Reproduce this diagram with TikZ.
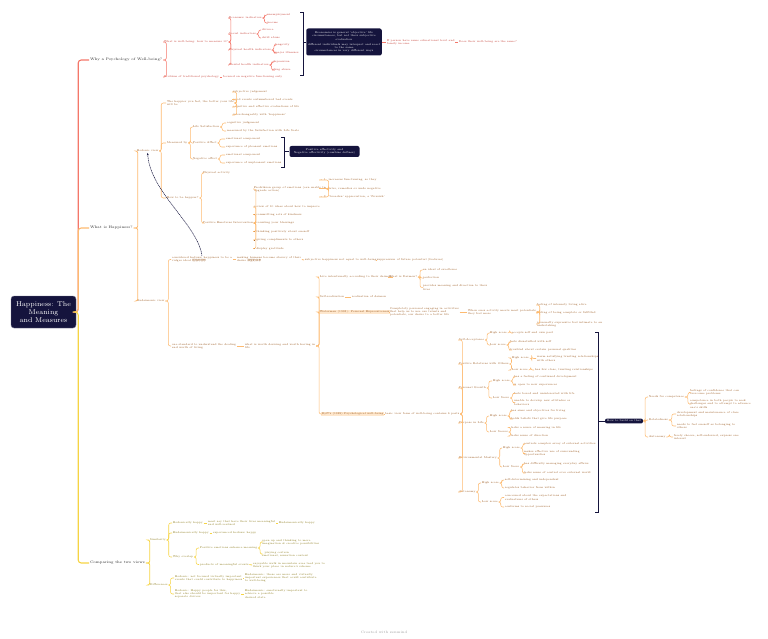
\documentclass[tikz,border=0pt]{standalone}
\usepackage{fontspec}
\newfontfamily\cjkfont{Noto Sans CJK SC}
\usetikzlibrary{arrows.meta}
\definecolor{cnavy}{HTML}{15143D}
\definecolor{cred}{HTML}{F4776A}
\definecolor{credtext}{HTML}{C23A30}
\definecolor{corange}{HTML}{FDBA70}
\definecolor{corangetext}{HTML}{9B5B22}
\definecolor{cyellow}{HTML}{F6D444}
\definecolor{cyellowtext}{HTML}{8C7B1D}
\definecolor{cgrey}{HTML}{A0A0A0}
\newcommand{\sqb}{\rule{1.1pt}{1.1pt}\ }
\tikzset{
  every picture/.style={x=1pt, y=-1pt},
  leaf/.style={anchor=west, inner sep=0.7pt, align=left, font=\fontsize{2.7}{3.3}\selectfont, text=#1},
  leaf/.default=corangetext,
  leafr/.style={leaf=credtext},
  leafy/.style={leaf=cyellowtext},
  topic/.style={anchor=west, inner sep=0.8pt, font=\fontsize{3.6}{4.3}\selectfont, text=black!85},
  rootbox/.style={fill=cnavy, draw=cnavy!60, text=white, rounded corners=3pt, align=center, minimum width=65, minimum height=32, font=\fontsize{7}{8}\selectfont},
  darkbox/.style={fill=cnavy, text=white, rounded corners=2pt, align=center, inner sep=1.5pt, font=\fontsize{2.7}{3.3}\selectfont},
  link/.style={draw=#1, line width=0.55pt, rounded corners=2pt},
  link/.default=corange,
  trunk/.style={draw=#1, line width=1.1pt, rounded corners=3pt},
  bracket/.style={draw=cnavy, line width=0.8pt},
  hl/.style={fill=corange!35},
}
\begin{document}
\begin{tikzpicture}
\useasboundingbox (0,0) rectangle (768,639);
\node[rootbox] (root) at (43.5,312) {Happiness: The\\Meaning\\and Measures};

% why a psychology of well-being
\node[topic] (why) at (89,60) {Why a Psychology of Well-being?};
\node[leafr] (measure) at (163,42) {What is well-being: how to measure it?};
\node[leafr] (econ) at (228,18) {Economic indicators};
\node[leafr] (social) at (228,34) {Social indicators};
\node[leafr] (physical) at (228,50) {Physical health indicators};
\node[leafr] (mental) at (228,65) {Mental health indicators};
\node[leafr] (unemploy) at (266,15) {unemployment};
\node[leafr] (income) at (266,23) {income};
\node[leafr] (divorce) at (261,30) {divorce};
\node[leafr] (abuse) at (261,38) {child abuse};
\node[leafr] (longevity) at (274,45) {longevity};
\node[leafr] (illness) at (274,53) {major illnesses};
\node[leafr] (depress) at (272,62) {depression};
\node[leafr] (drug) at (272,70) {drug abuse};
\node[darkbox, minimum width=72, minimum height=27] (objective) at (344,42) {Economics is general `objective' life\\circumstances, but not their subjective\\evaluation\\[2pt]different individuals may interpret and react\\to the same\\circumstances in very different ways};
\node[leafr] (sameinc) at (386,42) {If person have same educational level and\\family income};
\node[leafr] (samewb) at (458,42) {Does their well-being are the same?};
\node[leafr] (problem) at (163,77) {Problem of traditional psychology};
\node[leafr] (negative) at (222,77) {focused on negative functioning only};

\foreach \c in {measure,problem} \draw[link=cred] (why.east) -- ++(3,0) |- (\c.west);
\foreach \c in {econ,social,physical,mental} \draw[link=cred] (measure.east) -- ++(2,0) |- (\c.west);
\foreach \a/\b in {econ/unemploy, econ/income, social/divorce, social/abuse, physical/longevity, physical/illness, mental/depress, mental/drug}
  \draw[link=cred] (\a.east) -- ++(2,0) |- (\b.west);
\draw[link=cred, line width=0.8pt] (problem.east) -- (negative.west);
\draw[link=cred] (objective.east) -- (sameinc.west);
\draw[link=cred, line width=0.8pt] (sameinc.east) -- (samewb.west);
\draw[bracket] (300,12) -- (303,12) -- (303,75) -- (300,75);
\draw[bracket] (303,42) -- (objective.west);

% what is happiness
\node[topic] (what) at (89,228) {What is Happiness?};
\node[leaf] (hedonic) at (136,151) {Hedonic view};
\node[leaf] (eudai) at (136,301) {Eudaimonic view};
\node[leaf] (happier) at (166,103) {The happier you feel, the better your life\\will be};
\node[leaf] (measby) at (166,143) {Measured by};
\node[leaf] (howto) at (166,198) {How to be happier?};
\node[leaf] (subjj) at (232,92) {subjective judgement};
\node[leaf] (goodev) at (232,99.5) {good events outnumbered bad events};
\node[leaf] (cogaff) at (232,107) {cognitive and affective evaluations of life};
\node[leaf] (interch) at (232,115) {interchangeably with `happiness'};
\node[leaf] (lifesat) at (192,127) {Life Satisfaction};
\node[leaf] (posaff) at (192,143) {Positive Affect};
\node[leaf] (negaff) at (192,159) {Negative affect};
\node[leaf] (cogjud) at (226,123) {cognitive judgement};
\node[leaf] (swls) at (226,131) {measured by the Satisfaction with Life Scale};
\node[leaf] (posemo) at (225,139) {emotional component};
\node[leaf] (pleasant) at (225,147) {experience of pleasant emotions};
\node[leaf] (negemo) at (225,155) {emotional component};
\node[leaf] (unpleasant) at (225,163) {experience of unpleasant emotions};
\node[darkbox, minimum width=70, minimum height=11] (affbox) at (324.5,151.5) {Positive affectivity and\\Negative affectivity (combine defines)};
\draw[bracket] (281,137) -- (284,137) -- (284,167) -- (281,167);
\draw[bracket] (284,151.5) -- (affbox.west);
\node[leaf] (physact) at (202,173) {Physical activity};
\node[leaf] (posint) at (202,223) {Positive Emotions Intervention};
\node[leaf] (fred) at (253,189) {Fredrikson group of emotions (can enable to\\upgrade action)};
\node[leaf] (review) at (253,207) {review of 10 ideas about how to improve};
\node[leaf] (kind) at (253,214.5) {\sqb committing acts of kindness};
\node[leaf] (bless) at (253,223) {\sqb counting your blessings};
\node[leaf] (thinkpos) at (253,231.5) {\sqb thinking positively about oneself};
\node[leaf] (compl) at (253,240) {\sqb giving compliments to others};
\node[leaf] (grat) at (253,248.5) {\sqb display gratitude};
\node[leaf] (fredA) at (319,180) {\textbullet\ 1. increases functioning, so they};
\node[leaf] (fredB) at (319,188.5) {\textbullet\ 2. later, remedies or undo negative};
\node[leaf] (fredC) at (319,197) {\textbullet\ 3. `broaden' appreciation, a `flourish'};

\node[leaf] (vulgar) at (171,259.5) {considered hedonic happiness to be a\\vulgar ideal {\cjkfont 粗俗的理想}};
\node[leaf] (slavery) at (236,259.5) {making humans become slavery of their\\desire {\cjkfont 欲望的奴隶}};
\node[leaf] (notequal) at (304,260) {subjective happiness not equal to well-being};
\node[leaf] (suppress) at (376,260) {suppression of future potential (features)};
\node[leaf] (worthA) at (171,346) {one standard to understand the dealing\\and worth of living};
\node[leaf] (worthB) at (244,346) {what is worth desiring and worth having in\\life};
\node[leaf] (daimonlive) at (319,277) {Live intentionally according to their daimon};
\node[leaf] (daimonq) at (388,277) {What is Daimon?};
\node[leaf] (excel) at (422,270) {an ideal of excellence};
\node[leaf] (perfect) at (422,278) {perfection};
\node[leaf] (meaning) at (422,287.5) {provides meaning and direction to their\\lives};
\node[leaf] (selfreal) at (319,297) {Self-realization};
\node[leaf] (realdai) at (351,297) {realisation of daimon};
\node[leaf, hl] (waterman) at (319,312) {Waterman (1993): Personal Expressiveness};
\node[leaf] (engage) at (389,312) {Completely personal engaging in activities\\that help us to use our talents and\\potentials, our desire to a better life};
\node[leaf] (meets) at (467,312) {When ones activity meets most potentials\\they feel more};
\node[leaf] (alive) at (536,305) {feeling of intensely living alive};
\node[leaf] (fulfil) at (536,313) {feeling of being complete or fulfilled};
\node[leaf] (intimate) at (536,324) {personally expressive feel intimate to an\\undertaking};

\node[leaf, hl] (ryff) at (321,414) {Ryff's (1989) Psychological well-being};
\node[leaf] (sixparts) at (384,414) {basic view form of well-being contains 6 parts};
\node[leaf] (accept) at (458,340) {Self-Acceptance};
\node[leaf] (relations) at (458,364) {Positive Relations with Others};
\node[leaf] (growth) at (458,388) {Personal Growth};
\node[leaf] (purpose) at (458,423) {Purpose in Life};
\node[leaf] (mastery) at (458,458) {Environmental Mastery};
\node[leaf] (autonomy) at (458,492) {Autonomy};
\node[leaf] (accHi) at (489,333) {High score};
\node[leaf] (accLo) at (489,345) {Low score};
\node[leaf] (relHi) at (511,358) {High score};
\node[leaf] (relLo) at (511,370) {Low score};
\node[leaf] (groHi) at (492,381) {High score};
\node[leaf] (groLo) at (492,398) {Low Score};
\node[leaf] (purHi) at (489,416) {High score};
\node[leaf] (purLo) at (489,432) {Low Scores};
\node[leaf] (masHi) at (502,448) {High score};
\node[leaf] (masLo) at (502,467) {Low Score};
\node[leaf] (autHi) at (481,483) {High score};
\node[leaf] (autLo) at (481,502) {Low score};
\node[leaf] (accA) at (511,333) {accepts self and own past};
\node[leaf] (accB) at (509,342) {feels dissatisfied with self};
\node[leaf] (accC) at (509,350) {troubled about certain personal qualities};
\node[leaf] (relA) at (536,358.5) {warm satisfying trusting relationships\\with others};
\node[leaf] (relB) at (534,370) {has few close, trusting relationships};
\node[leaf] (groA) at (513,377) {has a feeling of continued development};
\node[leaf] (groB) at (513,385) {is open to new experiences};
\node[leaf] (groC) at (513,393.5) {feels bored and uninterested with life};
\node[leaf] (groD) at (513,402.5) {unable to develop new attitudes or\\behaviors};
\node[leaf] (purA) at (510,411) {has aims and objectives for living};
\node[leaf] (purB) at (510,419) {holds beliefs that give life purpose};
\node[leaf] (purC) at (510,427.5) {lacks a sense of meaning in life};
\node[leaf] (purD) at (510,436) {lacks sense of direction};
\node[leaf] (masA) at (523,444) {controls complex array of external activities};
\node[leaf] (masB) at (523,453.5) {makes effective use of surrounding\\opportunities};
\node[leaf] (masC) at (523,464) {has difficulty managing everyday affairs};
\node[leaf] (masD) at (523,473) {lacks sense of control over external world};
\node[leaf] (autA) at (504,480) {self-determining and independent};
\node[leaf] (autB) at (504,488) {regulates behavior from within};
\node[leaf] (autC) at (504,497.5) {concerned about the expectations and\\evaluations of others};
\node[leaf] (autD) at (504,507) {conforms to social pressures};

\draw[bracket] (595,332) -- (598,332) -- (598,512) -- (595,512);
\node[darkbox, minimum width=38] (build) at (624,421) {How to build on that};
\draw[bracket] (598,421) -- (build.west);
\node[leaf] (compet) at (648,397) {Needs for competence};
\node[leaf] (related) at (648,420) {Relatedness};
\node[leaf] (autoneed) at (648,437) {Autonomy};
\node[leaf] (confid) at (689,392.5) {feelings of confidence that can\\overcome problems};
\node[leaf] (challenge) at (689,404) {competence in both people to seek\\challenges and to attempt to advance\\one's skills};
\node[leaf] (maintain) at (676,414) {development and maintenance of close\\relationships};
\node[leaf] (belong) at (676,426) {needs to feel oneself as belonging to\\others};
\node[leaf] (freely) at (673,437) {freely choose, self-endorsed, express one\\interest};

\foreach \c in {hedonic,eudai} \draw[link, line width=0.8pt] (what.east) -- ++(4,0) |- (\c.west);
\foreach \c in {happier,measby,howto} \draw[link] (hedonic.east) -- ++(2,0) |- (\c.west);
\foreach \a/\b in {happier/subjj, happier/goodev, happier/cogaff, happier/interch, measby/lifesat, measby/posaff, measby/negaff,
  lifesat/cogjud, lifesat/swls, posaff/posemo, posaff/pleasant, negaff/negemo, negaff/unpleasant, howto/physact, howto/posint,
  posint/fred, posint/review, posint/kind, posint/bless, posint/thinkpos, posint/compl, posint/grat, fred/fredA, fred/fredB, fred/fredC}
  \draw[link] (\a.east) -- ++(2,0) |- (\b.west);
\foreach \c in {vulgar,worthA} \draw[link] (eudai.east) -- ++(3,0) |- (\c.west);
\foreach \a/\b in {vulgar/slavery, slavery/notequal, notequal/suppress, worthA/worthB, daimonlive/daimonq, selfreal/realdai,
  waterman/engage, engage/meets, ryff/sixparts}
  \draw[link, line width=0.8pt] (\a.east) -- (\b.west);
\foreach \c in {daimonlive,selfreal,waterman,ryff} \draw[link] (worthB.east) -- ++(3,0) |- (\c.west);
\foreach \c in {excel,perfect,meaning} \draw[link] (daimonq.east) -- ++(2,0) |- (\c.west);
\foreach \c in {alive,fulfil,intimate} \draw[link] (meets.east) -- ++(3,0) |- (\c.west);
\foreach \c in {accept,relations,growth,purpose,mastery,autonomy} \draw[link] (sixparts.east) -- ++(2,0) |- (\c.west);
\foreach \a/\b in {accept/accHi, accept/accLo, relations/relHi, relations/relLo, growth/groHi, growth/groLo, purpose/purHi, purpose/purLo,
  mastery/masHi, mastery/masLo, autonomy/autHi, autonomy/autLo, accHi/accA, accLo/accB, accLo/accC, relHi/relA, relLo/relB,
  groHi/groA, groHi/groB, groLo/groC, groLo/groD, purHi/purA, purHi/purB, purLo/purC, purLo/purD, masHi/masA, masHi/masB,
  masLo/masC, masLo/masD, autHi/autA, autHi/autB, autLo/autC, autLo/autD}
  \draw[link] (\a.east) -- ++(2,0) |- (\b.west);
\foreach \c in {compet,related,autoneed} \draw[link] (build.east) -- ++(2,0) |- (\c.west);
\foreach \a/\b in {compet/confid, compet/challenge, related/maintain, related/belong, autoneed/freely}
  \draw[link] (\a.east) -- ++(3,0) |- (\b.west);
\draw[cnavy, line width=0.5pt, dash pattern=on 1.2pt off 0.6pt, -{Stealth[length=2.5pt]}] (vulgar.north) .. controls (198,225) and (150,192) .. (hedonic.south);

% comparing the two views
\node[topic] (cmp) at (89,563) {Comparing the two views};
\node[leafy] (simil) at (149,540) {Similarity};
\node[leafy] (differ) at (149,585) {Differences};
\node[leafy] (hedhappy) at (172,523) {Hedonically happy};
\node[leafy] (eudhappy) at (172,533) {Eudaimonically happy};
\node[leafy] (overlap) at (172,557) {Why overlap};
\node[leafy] (meaningful) at (207,523) {most say that have their lives meaningful\\and well-realised};
\node[leafy] (eudhappyB) at (278,523) {Eudaimonically happy};
\node[leafy] (exphed) at (212,533) {experienced hedonic happy};
\node[leafy] (enhance) at (199,548) {Positive emotions enhance meaning};
\node[leafy] (products) at (199,564.5) {products of meaningful events};
\node[leafy] (openup) at (261,542) {open up and thinking to more\\imagination \& creative possibilities};
\node[leafy] (playing) at (261,554) {\quad playing certain\\emotional, sensation content};
\node[leafy] (enjoy) at (252,565) {enjoyable walk in mountain area lead you to\\think your place in nature's scheme};
\node[leafy] (hdiffA) at (174,578) {Hedonic: not focused virtually important\\events that could contribute to happiness};
\node[leafy] (ediffA) at (244,578) {Eudaimonic: these are more and virtually\\important experiences that could contribute\\to well-being};
\node[leafy] (hdiffB) at (174,594) {Hedonic: Happy people for this,\\that also should be important for happy\\separate drivers};
\node[leafy] (ediffB) at (244,594) {Eudaimonic: emotionally important to\\achieve a possible\\desired state};

\foreach \c in {simil,differ} \draw[link=cyellow, line width=0.8pt] (cmp.east) -- ++(4,0) |- (\c.west);
\foreach \a/\b in {simil/hedhappy, simil/eudhappy, simil/overlap, overlap/enhance, overlap/products, enhance/openup, enhance/playing,
  differ/hdiffA, differ/hdiffB}
  \draw[link=cyellow] (\a.east) -- ++(2,0) |- (\b.west);
\foreach \a/\b in {hedhappy/meaningful, meaningful/eudhappyB, eudhappy/exphed, products/enjoy, hdiffA/ediffA, hdiffB/ediffB}
  \draw[link=cyellow, line width=0.8pt] (\a.east) -- (\b.west);

\draw[trunk=cred] (root.east) -- ++(2,0) |- (why.west);
\draw[trunk=corange] (root.east) -- ++(2,0) |- (what.west);
\draw[trunk=cyellow] (root.east) -- ++(2,0) |- (cmp.west);

\node[font=\fontsize{3.5}{4}\selectfont, text=cgrey] (credit) at (384,632) {Created with zenmind};
\end{tikzpicture}
\end{document}
